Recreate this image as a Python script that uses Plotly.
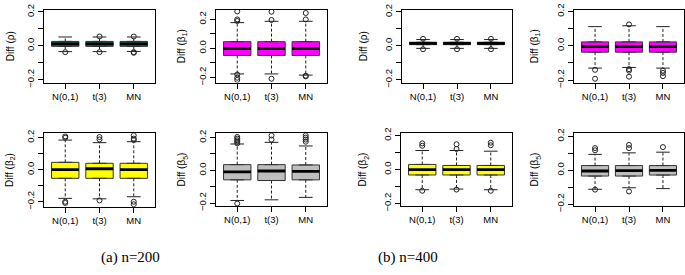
import plotly.graph_objects as go

# ---------------- data ----------------
cats = ["N(0,1)", "t(3)", "MN"]
pos = [1, 2, 3]

# (a) n=200, rho
rho200_q1 = [-0.003, -0.003, -0.003]
rho200_med = [0.011, 0.011, 0.011]
rho200_q3 = [0.026, 0.026, 0.026]
rho200_lo = [-0.034, -0.034, -0.033]
rho200_hi = [0.052, 0.052, 0.052]
rho200_out = [[-0.037], [0.055, -0.037], [0.055, -0.037, -0.041]]

# (a) n=200, beta1
b1_200_q1 = [-0.049, -0.049, -0.049]
b1_200_med = [-0.002, -0.002, -0.002]
b1_200_q3 = [0.046, 0.046, 0.046]
b1_200_lo = [-0.176, -0.176, -0.184]
b1_200_hi = [0.177, 0.186, 0.186]
b1_200_out = [[0.254, 0.199, 0.188, -0.180, -0.202, -0.217],
              [0.252, 0.195, -0.209],
              [0.243, 0.199, -0.188, -0.193]]

# (a) n=200, beta2
b2_200_q1 = [-0.054, -0.054, -0.054]
b2_200_med = [0.0, 0.006, 0.0]
b2_200_q3 = [0.046, 0.040, 0.040]
b2_200_lo = [-0.179, -0.182, -0.169]
b2_200_hi = [0.185, 0.169, 0.175]
b2_200_out = [[0.208, 0.200, -0.200, -0.208],
              [0.204, 0.189, -0.192],
              [0.214, 0.194, 0.185, -0.200, -0.216]]

# (a) n=200, beta5
b5_200_q1 = [-0.058, -0.062, -0.058]
b5_200_med = [-0.009, -0.004, -0.006]
b5_200_q3 = [0.035, 0.035, 0.033]
b5_200_lo = [-0.184, -0.180, -0.165]
b5_200_hi = [0.161, 0.171, 0.149]
b5_200_out = [[0.204, 0.194, 0.184, 0.175, 0.165, -0.203],
              [0.213, 0.188],
              [0.213, 0.200, 0.188, 0.175]]

# (b) n=400, rho
rho400_q1 = [0.007, 0.007, 0.007]
rho400_med = [0.014, 0.014, 0.014]
rho400_q3 = [0.021, 0.021, 0.021]
rho400_lo = [-0.015, -0.015, -0.015]
rho400_hi = [0.037, 0.037, 0.037]
rho400_out = [[0.041, -0.020], [0.041, -0.020], [0.041, -0.020]]

# (b) n=400, beta1
b1_400_q1 = [-0.037, -0.037, -0.037]
b1_400_med = [-0.005, -0.005, -0.005]
b1_400_q3 = [0.023, 0.023, 0.023]
b1_400_lo = [-0.130, -0.126, -0.130]
b1_400_hi = [0.112, 0.117, 0.112]
b1_400_out = [[-0.140, -0.192],
              [0.125, -0.136, -0.145, -0.180],
              [-0.145, -0.158, -0.177]]

# (b) n=400, beta2
b2_400_q1 = [-0.032, -0.032, -0.032]
b2_400_med = [0.0, 0.0, 0.0]
b2_400_q3 = [0.030, 0.024, 0.024]
b2_400_lo = [-0.119, -0.115, -0.119]
b2_400_hi = [0.112, 0.112, 0.108]
b2_400_out = [[0.154, 0.140, -0.125],
              [0.149, 0.121, -0.118],
              [0.158, 0.143, -0.125]]

# (b) n=400, beta5
b5_400_q1 = [-0.034, -0.034, -0.028]
b5_400_med = [-0.004, -0.002, 0.0]
b5_400_q3 = [0.028, 0.028, 0.028]
b5_400_lo = [-0.112, -0.103, -0.108]
b5_400_hi = [0.094, 0.103, 0.107]
b5_400_out = [[0.131, 0.118, -0.114],
              [0.150, 0.131, -0.125],
              [0.137]]

ytick_vals = [-0.2, 0.0, 0.2]
ytick_text = ["\u22120.2", "0.0", "0.2"]
yminor_vals = [-0.1, 0.1]

# ---------------- styling / layout ----------------
W, H = 685, 275
FONT = "Liberation Sans, Arial, sans-serif"

panels = [
    ((rho200_q1, rho200_med, rho200_q3, rho200_lo, rho200_hi, rho200_out),
     "#1f7373", [-0.216, 0.212], (44, 155, 4, 80), "Diff (\u03c1)", 10),
    ((b1_200_q1, b1_200_med, b1_200_q3, b1_200_lo, b1_200_hi, b1_200_out),
     "#ff00ff", [-0.235, 0.265], (216, 327, 4, 80), "Diff (\u03b2<sub>1</sub>)", 182),
    ((b2_200_q1, b2_200_med, b2_200_q3, b2_200_lo, b2_200_hi, b2_200_out),
     "#ffff00", [-0.232, 0.228], (44, 155, 133, 210), "Diff (\u03b2<sub>2</sub>)", 10),
    ((b5_200_q1, b5_200_med, b5_200_q3, b5_200_lo, b5_200_hi, b5_200_out),
     "#bebebe", [-0.217, 0.227], (216, 327, 133, 209), "Diff (\u03b2<sub>5</sub>)", 182),
    ((rho400_q1, rho400_med, rho400_q3, rho400_lo, rho400_hi, rho400_out),
     "#1f7373", [-0.216, 0.212], (402, 512, 4, 80), "Diff (\u03c1)", 363),
    ((b1_400_q1, b1_400_med, b1_400_q3, b1_400_lo, b1_400_hi, b1_400_out),
     "#ff00ff", [-0.214, 0.21], (574, 684, 4, 80), "Diff (\u03b2<sub>1</sub>)", 535),
    ((b2_400_q1, b2_400_med, b2_400_q3, b2_400_lo, b2_400_hi, b2_400_out),
     "#ffff00", [-0.214, 0.214], (401, 512, 133, 209), "Diff (\u03b2<sub>2</sub>)", 363),
    ((b5_400_q1, b5_400_med, b5_400_q3, b5_400_lo, b5_400_hi, b5_400_out),
     "#bebebe", [-0.21, 0.219], (574, 684, 133, 209), "Diff (\u03b2<sub>5</sub>)", 535),
]

BOXW = 0.8
CAPW = 0.4

fig = go.Figure()
layout = dict(
    width=W, height=H,
    margin=dict(l=0, r=0, t=0, b=0),
    paper_bgcolor="white", plot_bgcolor="white",
    showlegend=False,
    font=dict(family=FONT, size=9.5, color="black"),
    annotations=[],
)

for k, (data, fill, yr, (px0, px1, py0, py1), title, tx) in enumerate(panels, start=1):
    q1, med, q3, lo, hi, outs = data
    xa = "x" if k == 1 else f"x{k}"
    ya = "y" if k == 1 else f"y{k}"

    fig.add_trace(go.Box(
        x=pos, q1=q1, median=med, q3=q3, lowerfence=q1, upperfence=q3,
        width=BOXW, fillcolor=fill, line=dict(color="#333333", width=1),
        orientation="v", xaxis=xa, yaxis=ya, hoverinfo="skip", boxpoints=False,
    ))
    wx, wy = [], []
    for p, a, b, c, d in zip(pos, q3, hi, q1, lo):
        wx += [p, p, None, p, p, None]
        wy += [a, b, None, c, d, None]
    fig.add_trace(go.Scatter(x=wx, y=wy, mode="lines", xaxis=xa, yaxis=ya,
                             line=dict(color="#222222", width=1, dash="3px,2px"),
                             hoverinfo="skip"))
    sx, sy = [], []
    for p, b, d in zip(pos, hi, lo):
        sx += [p - CAPW / 2, p + CAPW / 2, None, p - CAPW / 2, p + CAPW / 2, None]
        sy += [b, b, None, d, d, None]
    fig.add_trace(go.Scatter(x=sx, y=sy, mode="lines", xaxis=xa, yaxis=ya,
                             line=dict(color="#222222", width=1), hoverinfo="skip"))
    mx, my = [], []
    for p, m in zip(pos, med):
        mx += [p - BOXW / 2, p + BOXW / 2, None]
        my += [m, m, None]
    fig.add_trace(go.Scatter(x=mx, y=my, mode="lines", xaxis=xa, yaxis=ya,
                             line=dict(color="black", width=2.8), hoverinfo="skip"))
    ox, oy = [], []
    for p, o in zip(pos, outs):
        ox += [p] * len(o)
        oy += o
    fig.add_trace(go.Scatter(x=ox, y=oy, mode="markers", xaxis=xa, yaxis=ya,
                             marker=dict(symbol="circle-open", size=5, color="#222222",
                                         line=dict(width=1)),
                             hoverinfo="skip"))

    common = dict(showline=True, linecolor="black", linewidth=1, mirror=True,
                  ticks="outside", ticklen=5, tickcolor="black", tickwidth=1,
                  showgrid=False, zeroline=False,
                  tickfont=dict(family=FONT, size=9.5, color="black"))
    layout["xaxis" if k == 1 else f"xaxis{k}"] = dict(
        domain=[px0 / W, px1 / W], range=[0.38, 3.62],
        tickmode="array", tickvals=pos, ticktext=cats,
        anchor=ya, **common)
    layout["yaxis" if k == 1 else f"yaxis{k}"] = dict(
        domain=[1 - py1 / H, 1 - py0 / H], range=yr,
        tickmode="array", tickvals=ytick_vals, ticktext=ytick_text,
        minor=dict(tickmode="array", tickvals=yminor_vals, ticks="outside",
                   ticklen=5, tickcolor="black", tickwidth=1, showgrid=False),
        tickangle=-90, anchor=xa, **common)
    layout["annotations"].append(dict(
        text=title, x=tx / W, y=1 - (py0 + py1) / 2 / H, xref="paper", yref="paper",
        textangle=-90, showarrow=False, xanchor="center", yanchor="middle",
        font=dict(family=FONT, size=10, color="black")))

for txt, cx in [("(a) n=200", 130), ("(b) n=400", 408)]:
    layout["annotations"].append(dict(
        text=txt, x=cx / W, y=1 - 263 / H, xref="paper", yref="paper",
        showarrow=False, xanchor="center", yanchor="middle",
        font=dict(family="Liberation Serif, Times New Roman, serif", size=15, color="black")))

fig.update_layout(**layout)
fig.write_html("out.html", config={"displayModeBar": False},
               post_script="document.body.style.margin='0';document.body.style.overflow='hidden';")
